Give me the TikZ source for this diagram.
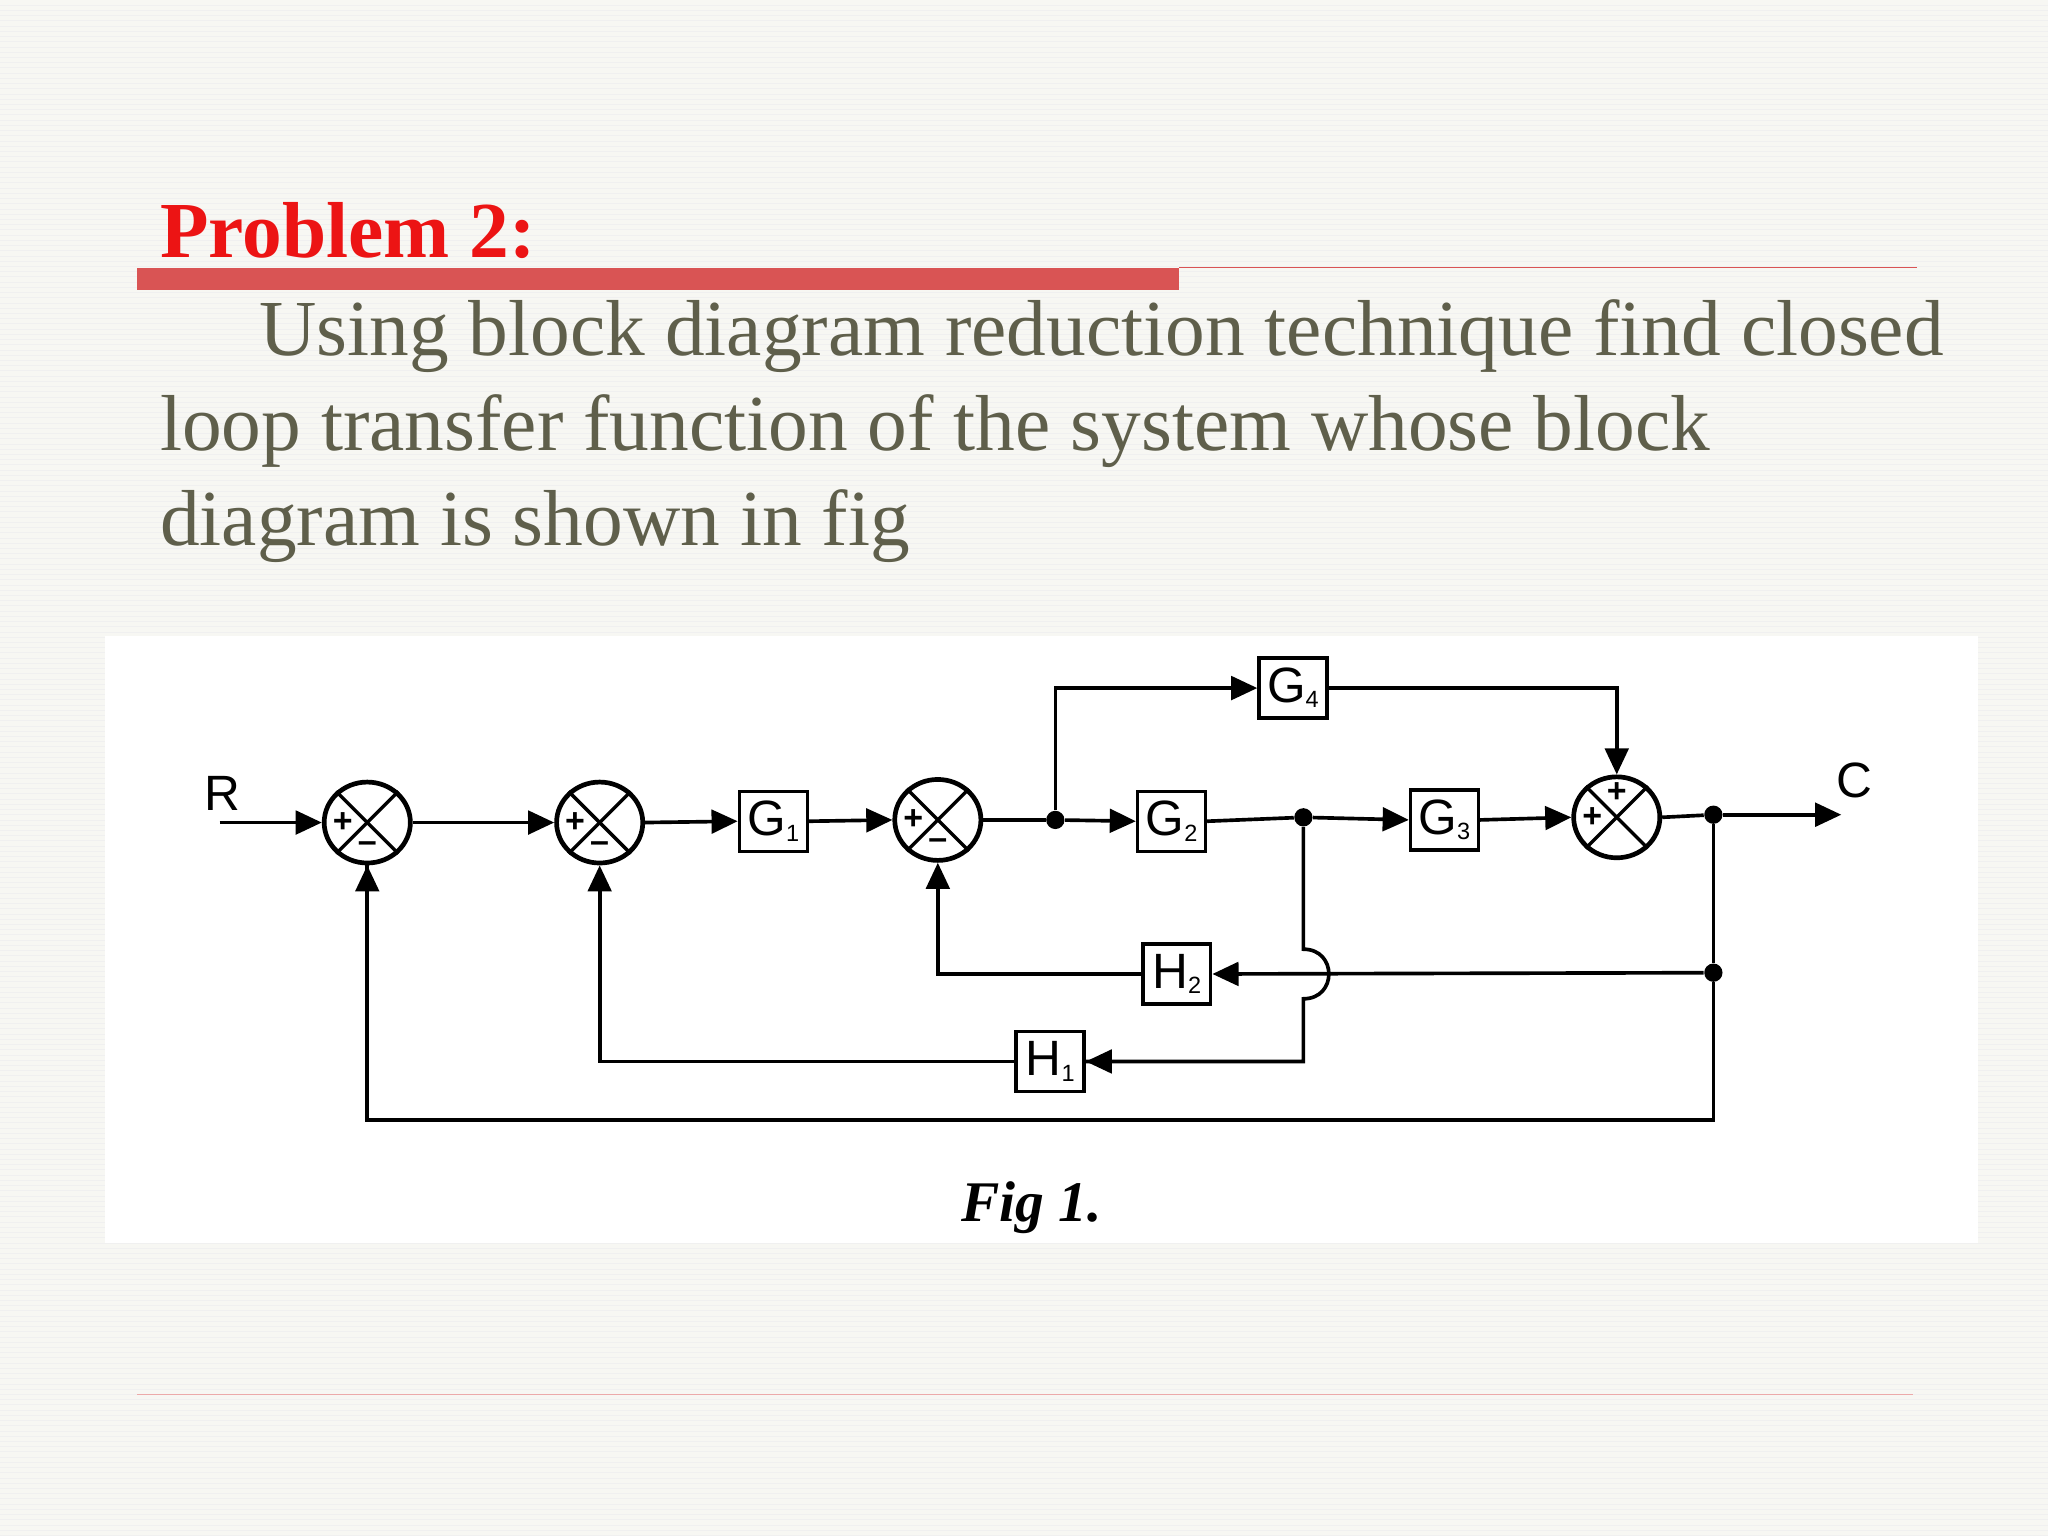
\documentclass[tikz,border=0pt]{standalone}
\usepackage{fontspec}
\setmainfont{Liberation Serif}
\setsansfont{Liberation Sans}
\usetikzlibrary{shapes.geometric,arrows.meta}
\definecolor{bg}{RGB}{247,247,243}
\definecolor{ttl}{RGB}{236,20,20}
\definecolor{bar}{RGB}{217,84,84}
\definecolor{body}{RGB}{95,95,75}
\newcommand{\sbs}[1]{\raisebox{-2pt}{\fontsize{9}{9}\selectfont #1}}
\tikzset{
  sumj/.style={draw,line width=1.8pt,ellipse,minimum width=33pt,minimum height=31pt,inner sep=0pt},
  blk/.style={draw,line width=1.3pt,minimum width=26pt,minimum height=23pt,inner sep=0pt,font=\sffamily\fontsize{19}{20}\selectfont},
  wire/.style={line width=1.4pt},
  arr/.style={line width=1.4pt,-{Triangle[length=10pt,width=9pt]}},
  dotn/.style={circle,fill,inner sep=0pt,minimum size=7pt},
  sg/.style={font=\sffamily\bfseries\fontsize{13}{13}\selectfont,inner sep=0pt},
  bodytxt/.style={anchor=base west,inner sep=0pt,text=body,font=\fontsize{30.4}{36}\selectfont}
}
\begin{document}
\begin{tikzpicture}[x=0.5pt,y=-0.5pt]
\fill[bg] (0,0) rectangle (1568,1176);
\foreach \yy in {4,8,...,1176} \draw[white!88!gray,line width=0.3pt] (0,\yy) -- (1568,\yy);
\useasboundingbox (0,0) rectangle (1568,1176);
\node[anchor=base west,inner sep=0pt,text=ttl,font=\bfseries\fontsize{30.4}{36}\selectfont] (ttl) at (122,197) {Problem 2:};
\fill[bar] (105,205) rectangle (903,222);
\draw[bar,line width=0.6pt] (903,205) -- (1468,205);
\node[bodytxt] (l1) at (198,272) {Using block diagram reduction technique find closed};
\node[bodytxt] (l2) at (122,345) {loop transfer function of the system whose block};
\node[bodytxt] (l3) at (122,418) {diagram is shown in fig};
\fill[white] (80,487) rectangle (1515,952);
\draw[bar!50,line width=0.5pt] (105,1068) -- (1465,1068);
% diagram
\node[sumj] (s1) at (281,630) {};
\node[sumj] (s2) at (459,630) {};
\node[sumj] (s3) at (718,628) {};
\node[sumj] (s4) at (1238,626) {};
\foreach \s in {s1,s2,s3,s4} {
  \draw[line width=1.3pt] (\s.45) -- (\s.225);
  \draw[line width=1.3pt] (\s.135) -- (\s.315);
}
\foreach \s in {s1,s2,s3} {
  \node[sg] at ([xshift=8pt]\s.west) {+};
  \node[sg] at ([yshift=7pt]\s.south) {--};
}
\node[sg] at ([xshift=8pt]s4.west) {+};
\node[sg] at ([yshift=-7pt]s4.north) {+};
\node[blk] (g1) at (592,629) {G\sbs{1}};
\node[blk] (g2) at (897,629) {G\sbs{2}};
\node[blk] (g3) at (1106,628) {G\sbs{3}};
\node[blk] (g4) at (990,527) {G\sbs{4}};
\node[blk] (h2) at (901,746) {H\sbs{2}};
\node[blk] (h1) at (804,813) {H\sbs{1}};
\node[font=\sffamily\fontsize{19}{20}\selectfont] (r) at (170,608) {R};
\node[font=\sffamily\fontsize{19}{20}\selectfont] (c) at (1420,598) {C};
\node[font=\bfseries\itshape\fontsize{22}{24}\selectfont] (fig) at (790,925) {Fig 1.};
\coordinate (rin) at (168,630);
\coordinate (cout) at (1410,624);
\node[dotn] (d1) at (808,628) {};
\node[dotn] (d2) at (998,626) {};
\node[dotn] (d3) at (1312,624) {};
\node[dotn] (d4) at (1312,745) {};
\draw[arr] (rin) -- (s1.west);
\draw[arr] (s1.east) -- (s2.west);
\draw[arr] (s2.east) -- (g1.west);
\draw[arr] (g1.east) -- (s3.west);
\draw[wire] (s3.east) -- (d1);
\draw[arr] (d1) -- (g2.west);
\draw[arr] (d1) |- (g4.west);
\draw[arr] (g4.east) -| (s4.north);
\draw[wire] (g2.east) -- (d2);
\draw[arr] (d2) -- (g3.west);
\draw[arr] (g3.east) -- (s4.west);
\draw[wire] (s4.east) -- (d3);
\draw[arr] (d3) -- (cout);
\draw[wire] (d3) -- (d4);
\draw[arr] (d4) -- (h2.east);
\draw[arr] (h2.west) -| (s3.south);
\draw[wire] (d4) |- (1312,858) -| (s1.south);
\draw[arr] (1312,858) -| (s1.south);
\draw[wire] (d2) -- (998,727) .. controls (1024,727) and (1024,765) .. (998,765) |- (h1.east);
\draw[arr] (998,813) -- (h1.east);
\draw[arr] (h1.west) -| (s2.south);
\end{tikzpicture}
\end{document}
